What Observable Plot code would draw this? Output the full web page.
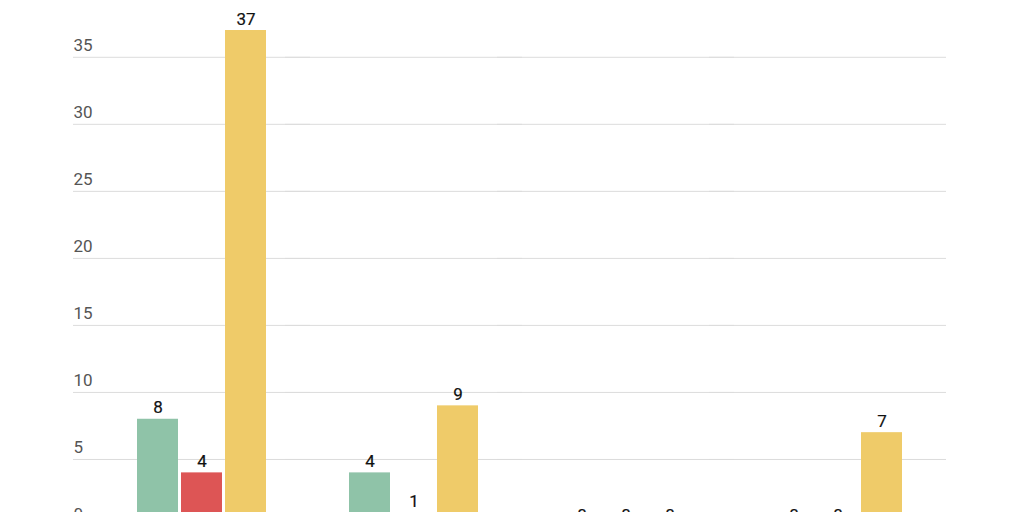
<!DOCTYPE html>
<html>
<head>
<meta charset="utf-8">
<script src="https://cdn.jsdelivr.net/npm/d3@7"></script>
<script src="https://cdn.jsdelivr.net/npm/@observablehq/plot@0.6"></script>
<style>
  html, body { margin: 0; padding: 0; background: #fff; }
  #chart { width: 1024px; }
</style>
</head>
<body>
<div id="chart"></div>
<script>
const groups = ["Group A", "Group B", "Group C", "Group D"];
const series = ["Series 1", "Series 2", "Series 3"];
const values1 = [8, 4, 0, 0];
const values2 = [4, 1, 0, 0];
const values3 = [37, 9, 0, 7];
const colors = ["#8fc3a8", "#dd5555", "#efcb69"];
const yTicks = [0, 5, 10, 15, 20, 25, 30, 35];

const allValues = [values1, values2, values3];
const data = [];
groups.forEach((g, gi) => {
  series.forEach((s, si) => {
    data.push({ group: g, series: s, value: allValues[si][gi] });
  });
});

const chart = Plot.plot({
  width: 1024,
  height: 566,
  marginTop: 30,
  marginBottom: 40,
  marginLeft: 96,
  marginRight: 80,
  style: { fontFamily: "Roboto, sans-serif", background: "#fff" },
  fx: { domain: groups, padding: 0, label: null, axis: null },
  x: { domain: series, paddingInner: 0.068, paddingOuter: 0.943, axis: null },
  y: { domain: [0, 37], axis: null, label: null },
  color: { domain: series, range: colors },
  marks: [
    Plot.ruleY(yTicks, { stroke: "#dcdcdc", strokeWidth: 1, insetLeft: -23, insetRight: -2 }),
    Plot.axisY({ ticks: yTicks, label: null, tickSize: 0, tickPadding: 0, textAnchor: "start", dx: -23, dy: -12, fontSize: 17, fill: "#555" }),
    Plot.barY(data, { fx: "group", x: "series", y: "value", fill: "series" }),
    Plot.text(data, { fx: "group", x: "series", y: "value", text: d => String(d.value), dy: -6, lineAnchor: "bottom", fontSize: 17, fontWeight: 400, fill: "#111", stroke: "#111", strokeWidth: 0.2 }),
    Plot.axisFx({ anchor: "bottom", label: null, tickSize: 0, fontSize: 15, fill: "#555" })
  ]
});
document.getElementById("chart").appendChild(chart);
</script>
</body>
</html>
